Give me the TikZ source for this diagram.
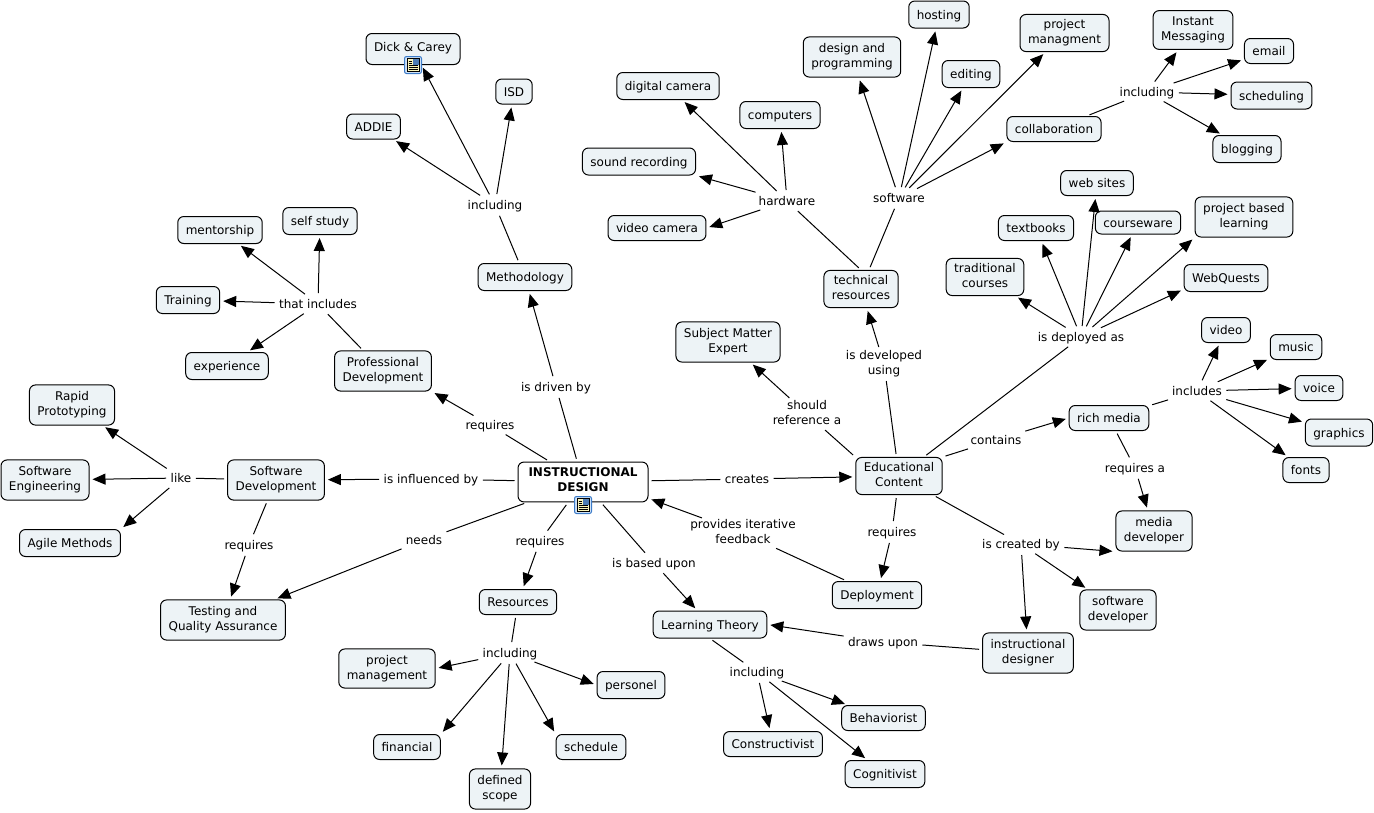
\documentclass[tikz,border=0pt]{standalone}
\usepackage{fontspec}
\setmainfont{DejaVu Sans}
\usetikzlibrary{arrows.meta}
\definecolor{boxfill}{HTML}{EDF3F6}
\definecolor{iconblue}{HTML}{3D7CC9}
\definecolor{iconback}{HTML}{CFE2F7}
\definecolor{iconpaper}{HTML}{FBF6BE}
\tikzset{
  concept/.style={draw=black, line width=1pt, fill=boxfill, rounded corners=6pt,
    align=center, inner xsep=8pt, inner ysep=5pt},
  deep/.style={inner ysep=6pt},
  deeper/.style={inner ysep=6.5pt},
  linklabel/.style={align=center, inner xsep=1pt, inner ysep=0pt},
  link/.style={shorten >=3pt, shorten <=3pt},
  docicon/.pic={
    \draw[iconblue, line width=1pt, fill=iconback, rounded corners=2pt] (-8.5,-8.5) rectangle (8.5,8.5);
    \draw[black, line width=.7pt, fill=iconpaper] (-6,-6.5) rectangle (6,6.5);
    \fill[iconblue!75!gray] (0,-6) rectangle (5.6,-.5);
    \foreach \liney in {-4,-2} \draw[black, line width=.7pt] (-4.5,\liney) -- (-1,\liney);
    \foreach \liney in {0.5,2.5,4.5} \draw[black, line width=.7pt] (-4.5,\liney) -- (4.5,\liney);
  }
}
\begin{document}
\begin{tikzpicture}[x=1pt, y=-1pt, line width=1pt, >={Triangle[length=13pt,width=11pt]},
      every node/.style={font=\fontsize{12}{15}\selectfont,
        execute at begin node={\rule{0pt}{12pt}}, execute at end node={\rule[-3pt]{0pt}{3pt}}}
  ]
    \useasboundingbox (0,0) rectangle (1374,812);

    \node[concept, fill=white, inner ysep=5.5pt, minimum width=130pt, font=\fontsize{12}{15}\selectfont\bfseries,
      execute at end node={\rule[-5pt]{0pt}{5pt}}]
      (design) at (583,482) {INSTRUCTIONAL\\DESIGN};
    \node[concept, deep] (method) at (525,277) {Methodology};
    \node[concept, inner ysep=5.5pt, text depth=8pt] (dick) at (413,49) {Dick \& Carey};
    \node[concept] (isd) at (514,91.5) {ISD};
    \node[concept] (addie) at (373.5,126.5) {ADDIE};
    \node[concept, deep] (camera) at (668,86) {digital camera};
    \node[concept, deep] (computers) at (780,115) {computers};
    \node[concept, deep] (sound) at (639,161.5) {sound recording};
    \node[concept] (video_cam) at (657,228) {video camera};
    \node[concept, deeper] (programming) at (852,57) {design and\\programming};
    \node[concept, deep] (hosting) at (939,14.5) {hosting};
    \node[concept, deep] (editing) at (971,74) {editing};
    \node[concept] (managment) at (1064.5,33) {project\\managment};
    \node[concept, deep] (messaging) at (1193,30) {Instant\\Messaging};
    \node[concept] (email) at (1269,51) {email};
    \node[concept, deep] (scheduling) at (1271.5,95.5) {scheduling};
    \node[concept, deep] (blogging) at (1247,149) {blogging};
    \node[concept] (collab) at (1054,129) {collaboration};
    \node[concept] (websites) at (1097,183) {web sites};
    \node[concept] (textbooks) at (1036,228) {textbooks};
    \node[concept, inner ysep=4pt] (courseware) at (1138,222.5) {courseware};
    \node[concept, deeper] (projbased) at (1244,217) {project based\\learning};
    \node[concept, deep] (webquests) at (1226,278) {WebQuests};
    \node[concept] (courses) at (985,277) {traditional\\courses};
    \node[concept] (technical) at (861,289) {technical\\resources};
    \node[concept, deeper] (expert) at (728,342) {Subject Matter\\Expert};
    \node[concept, deep] (mentor) at (220,230) {mentorship};
    \node[concept, deep] (selfstudy) at (320,221) {self study};
    \node[concept, deep] (training) at (188,300) {Training};
    \node[concept, deep] (experience) at (227,366) {experience};
    \node[concept, deeper] (profdev) at (383,371) {Professional\\Development};
    \node[concept, deeper] (rapid) at (72,405) {Rapid\\Prototyping};
    \node[concept, deeper] (softeng) at (45,480) {Software\\Engineering};
    \node[concept, deep] (agile) at (70,543) {Agile Methods};
    \node[concept, deeper] (softdev) at (276,480) {Software\\Development};
    \node[concept, deeper] (testing) at (223,620) {Testing and\\Quality Assurance};
    \node[concept] (resources) at (518,602) {Resources};
    \node[concept, deep] (projmgmt) at (387,668.5) {project\\management};
    \node[concept, deep] (personel) at (631,685) {personel};
    \node[concept] (financial) at (407,747) {financial};
    \node[concept] (schedule) at (591,747) {schedule};
    \node[concept, deeper] (scope) at (500,789) {defined\\scope};
    \node[concept, deep] (theory) at (710,624.5) {Learning Theory};
    \node[concept] (behavior) at (883.5,718) {Behaviorist};
    \node[concept] (construct) at (773,744) {Constructivist};
    \node[concept, deep] (cognit) at (885,774) {Cognitivist};
    \node[concept, deep] (deploy) at (877,595) {Deployment};
    \node[concept] (content) at (899,476) {Educational\\Content};
    \node[concept, deeper] (instrdes) at (1028,653) {instructional\\designer};
    \node[concept, deeper] (mediadev) at (1154,531) {media\\developer};
    \node[concept, deeper] (softwaredev) at (1118,610) {software\\developer};
    \node[concept] (richmedia) at (1109,418) {rich media};
    \node[concept] (video) at (1226,330) {video};
    \node[concept] (music) at (1296,347) {music};
    \node[concept] (voice) at (1319,388) {voice};
    \node[concept, deep] (graphics) at (1339,432.5) {graphics};
    \node[concept] (fonts) at (1306,470) {fonts};

    \node[linklabel] (l_incl_m) at (495,205) {including};
    \node[linklabel] (l_driven) at (556,387) {is driven by};
    \node[linklabel] (l_req_pd) at (490,425) {requires};
    \node[linklabel] (l_influ) at (431,479) {is influenced by};
    \node[linklabel] (l_needs) at (424,540) {needs};
    \node[linklabel] (l_req_r) at (540,541) {requires};
    \node[linklabel] (l_based) at (654,563) {is based upon};
    \node[linklabel] (l_creates) at (747,479) {creates};
    \node[linklabel] (l_feedback) at (743,533) {provides iterative\\feedback};
    \node[linklabel] (l_req_d) at (892,532) {requires};
    \node[linklabel] (l_should) at (807,414) {should\\reference a};
    \node[linklabel] (l_using) at (884,364) {is developed\\using};
    \node[linklabel] (l_deployed) at (1081,337) {is deployed as};
    \node[linklabel] (l_contains) at (996,440) {contains};
    \node[linklabel] (l_req_md) at (1135,468) {requires a};
    \node[linklabel] (l_includes) at (1197,391) {includes};
    \node[linklabel] (l_created) at (1021,544) {is created by};
    \node[linklabel] (l_draws) at (883,642) {draws upon};
    \node[linklabel] (l_hardware) at (787,201) {hardware};
    \node[linklabel] (l_software) at (899,198) {software};
    \node[linklabel] (l_incl_c) at (1147,92) {including};
    \node[linklabel] (l_that) at (318,304) {that includes};
    \node[linklabel] (l_like) at (181,478) {like};
    \node[linklabel] (l_req_t) at (249,545) {requires};
    \node[linklabel] (l_incl_r) at (510,653) {including};
    \node[linklabel] (l_incl_t) at (757,672) {including};

    \pic at (413,65) {docicon};
    \pic at (583,505) {docicon};

    \path[link]
    (design) edge (l_driven) edge (l_req_pd) edge (l_influ) edge (l_needs)
             edge (l_req_r) edge (l_based) edge (l_creates)
    (method) edge (l_incl_m)
    (profdev) edge (l_that)
    (softdev) edge (l_like) edge (l_req_t)
    (resources) edge (l_incl_r)
    (theory.south) edge (l_incl_t)
    (content) edge (l_req_d) edge (l_using) edge (l_deployed) edge (l_created)
    (content.north west) edge (l_should)
    (content.north east) edge (l_contains)
    (deploy) edge (l_feedback)
    (technical.north) edge (l_hardware)
    (technical) edge (l_software)
    (collab) edge (l_incl_c)
    (richmedia) edge (l_includes) edge (l_req_md)
    (instrdes) edge (l_draws)
    ;
    \path[link, ->]
    (l_driven) edge (method)
    (l_incl_m) edge (dick) edge (isd) edge (addie)
    (l_req_pd) edge (profdev.south east)
    (l_that) edge (mentor) edge (selfstudy) edge (training) edge (experience)
    (l_influ) edge (softdev)
    (l_like) edge (rapid) edge (softeng) edge (agile.north east)
    (l_req_t) edge (testing)
    (l_needs) edge (testing)
    (l_req_r) edge (resources)
    (l_incl_r) edge (projmgmt.east) edge (personel.west) edge (financial.north east)
               edge (schedule.north west) edge (scope)
    (l_based) edge (theory)
    (l_incl_t) edge (behavior) edge (construct) edge (cognit)
    (l_creates) edge (content)
    (l_req_d) edge (deploy)
    (l_feedback) edge (design.-14)
    (l_should) edge (expert)
    (l_using) edge (technical)
    (l_hardware) edge (camera) edge (computers) edge (sound.south east) edge (video_cam.east)
    (l_software) edge (programming) edge (hosting) edge (editing) edge (managment)
                 edge (collab.south west)
    (l_incl_c) edge (messaging) edge (email) edge (scheduling) edge (blogging)
    (l_deployed) edge (websites) edge (textbooks) edge (courseware) edge (projbased.south west)
                 edge (webquests.195) edge (courses)
    (l_contains) edge (richmedia.west)
    (l_includes) edge (video) edge (music) edge (voice) edge (graphics) edge (fonts)
    (l_req_md) edge (mediadev)
    (l_created) edge (mediadev.south west) edge (softwaredev) edge (instrdes)
    (l_draws) edge (theory.east)
    ;
\end{tikzpicture}
\end{document}
